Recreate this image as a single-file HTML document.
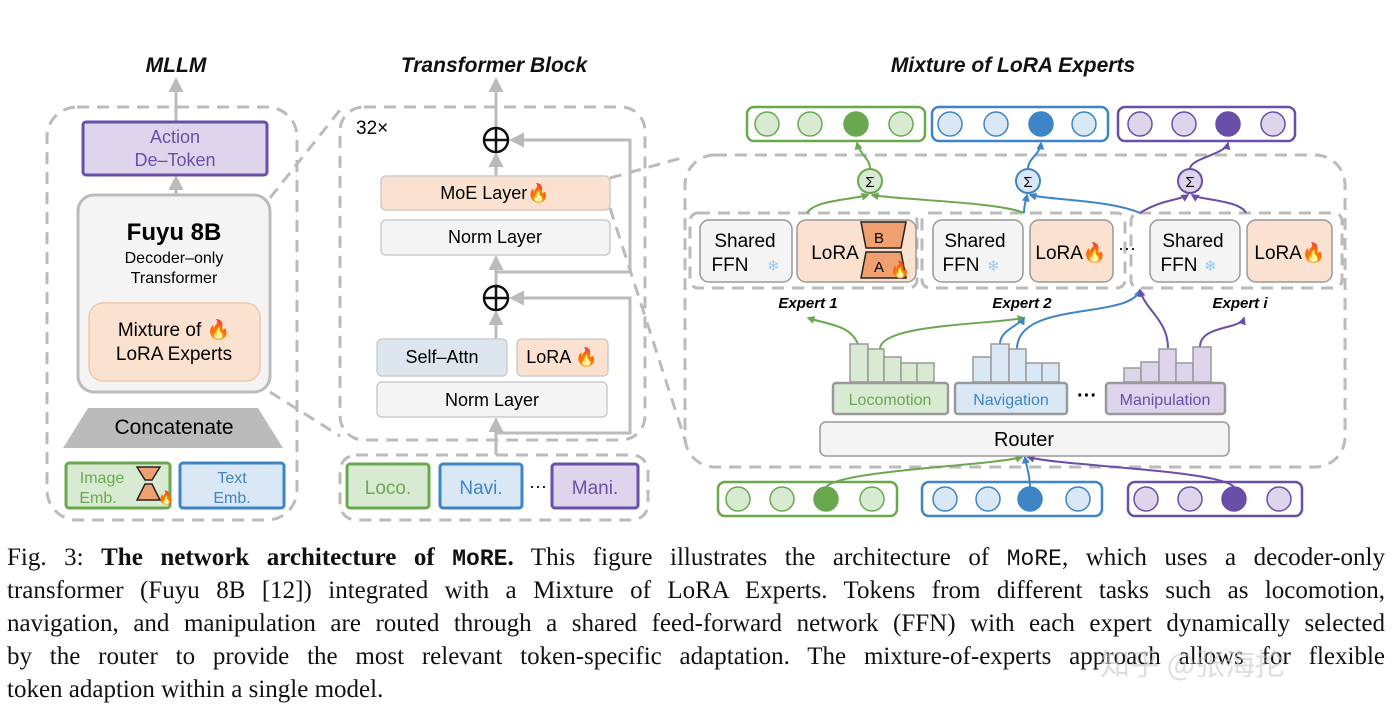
<!DOCTYPE html>
<html><head><meta charset="utf-8"><style>
body{margin:0;width:1392px;height:719px;background:#fff;overflow:hidden;position:relative;font-family:"Liberation Sans",sans-serif}
svg{position:absolute;left:0;top:0}
.cap{position:absolute;left:7px;width:1378px;font-family:"Liberation Serif",serif;font-size:25px;line-height:33px;color:#111;text-align:justify;text-align-last:justify;white-space:nowrap}
.mono{font-family:"Liberation Mono",monospace;font-size:23px}
</style></head><body>
<svg width="1392" height="719" viewBox="0 0 1392 719" font-family="Liberation Sans, sans-serif">
<defs>
<marker id="ag" viewBox="0 0 10 10" refX="8" refY="5" markerWidth="5" markerHeight="5" orient="auto"><path d="M0,0L10,5L0,10z" fill="#bbb"/></marker>
<marker id="gr" viewBox="0 0 10 10" refX="8" refY="5" markerWidth="4" markerHeight="4" orient="auto"><path d="M0,0L10,5L0,10z" fill="#6aa84f"/></marker>
<marker id="bl" viewBox="0 0 10 10" refX="8" refY="5" markerWidth="4" markerHeight="4" orient="auto"><path d="M0,0L10,5L0,10z" fill="#3d85c6"/></marker>
<marker id="pu" viewBox="0 0 10 10" refX="8" refY="5" markerWidth="4" markerHeight="4" orient="auto"><path d="M0,0L10,5L0,10z" fill="#6a4fa8"/></marker>
</defs>
<g font-weight="bold" font-style="italic" font-size="21" text-anchor="middle" fill="#111">
<text x="176" y="72">MLLM</text><text x="494" y="72">Transformer Block</text><text x="1013" y="72">Mixture of LoRA Experts</text></g>
<g fill="none" stroke="#bbb" stroke-width="3" stroke-dasharray="12,8">
<rect x="47" y="107" width="250" height="413" rx="30"/>
<rect x="340" y="107" width="305" height="333" rx="24"/>
<rect x="340" y="455" width="308" height="65" rx="16"/>
<rect x="685" y="155" width="660" height="312" rx="30"/>
<rect x="690" y="213" width="227" height="75" rx="8"/>
<rect x="922" y="213" width="203" height="75" rx="8"/>
<rect x="1131" y="213" width="211" height="75" rx="8"/>
<path d="M270 198 L340 110 M270 392 L340 436 M610 178 L685 157 M610 208 L685 440"/>
</g>
<g stroke="#bbb" stroke-width="3" fill="none">
<path d="M176 122V80" marker-end="url(#ag)"/><path d="M176 195V178" marker-end="url(#ag)"/>
</g>
<rect x="83" y="122" width="184" height="53" rx="3" fill="#dcd5ec" stroke="#6a4fa8" stroke-width="3"/>
<text x="175" y="143" font-size="18" fill="#6a4fa8" text-anchor="middle">Action</text>
<text x="175" y="166" font-size="18" fill="#6a4fa8" text-anchor="middle">De–Token</text>
<rect x="78" y="195" width="192" height="197" rx="16" fill="#f4f4f4" stroke="#bbb" stroke-width="3"/>
<text x="174" y="240" font-size="24" font-weight="bold" text-anchor="middle">Fuyu 8B</text>
<text x="174" y="263" font-size="16" text-anchor="middle">Decoder–only</text>
<text x="174" y="283" font-size="16" text-anchor="middle">Transformer</text>
<rect x="89" y="303" width="171" height="78" rx="14" fill="#fbe2d0" stroke="#f0c8a8" stroke-width="1.5"/>
<text x="174" y="336" font-size="19" text-anchor="middle">Mixture of 🔥</text>
<text x="174" y="360" font-size="19" text-anchor="middle">LoRA Experts</text>
<path d="M88 408H258L283 448H63Z" fill="#bbb"/>
<text x="174" y="434" font-size="21" text-anchor="middle">Concatenate</text>
<rect x="66" y="463" width="104" height="45" rx="3" fill="#d9ead3" stroke="#6aa84f" stroke-width="3"/>
<text x="102" y="483" font-size="16" fill="#6aa84f" text-anchor="middle">Image</text><text x="98" y="503" font-size="16" fill="#6aa84f" text-anchor="middle">Emb.</text>
<path d="M137 467H160L152 480H145Z M145 484H152L160 500H137Z" fill="#f0a070" stroke="#222" stroke-width="1.5"/>
<text x="158" y="502" font-size="13">🔥</text>
<rect x="180" y="463" width="104" height="45" rx="3" fill="#dae8f5" stroke="#3d85c6" stroke-width="3"/>
<text x="232" y="483" font-size="16" fill="#3d85c6" text-anchor="middle">Text</text><text x="232" y="503" font-size="16" fill="#3d85c6" text-anchor="middle">Emb.</text>
<g stroke="#bbb" stroke-width="3" fill="none">
<path d="M496 128V80" marker-end="url(#ag)"/>
<path d="M496 176V155" marker-end="url(#ag)"/>
<path d="M496 286V258" marker-end="url(#ag)"/>
<path d="M496 339V313" marker-end="url(#ag)"/>
<path d="M496 455V420" marker-end="url(#ag)"/>
<path d="M496 272H630V140H512" marker-end="url(#ag)"/>
<path d="M496 433H630V298H512" marker-end="url(#ag)"/>
</g>
<g fill="#fff" stroke="#111" stroke-width="2.5"><circle cx="496" cy="140" r="12"/><circle cx="496" cy="298" r="12"/>
<path d="M484 140H508M496 128V152M484 298H508M496 286V310"/></g>
<text x="356" y="134" font-size="19">32×</text>
<rect x="381" y="176" width="229" height="34" rx="5" fill="#fbe2d0" stroke="#ccc" stroke-width="1.5"/>
<text x="495" y="199" font-size="18" text-anchor="middle">MoE Layer🔥</text>
<rect x="381" y="220" width="229" height="35" rx="5" fill="#f4f4f4" stroke="#ccc" stroke-width="1.5"/>
<text x="495" y="243" font-size="18" text-anchor="middle">Norm Layer</text>
<rect x="377" y="339" width="130" height="37" rx="5" fill="#dde6ef" stroke="#ccc" stroke-width="1.5"/>
<text x="442" y="363" font-size="18" text-anchor="middle">Self–Attn</text>
<rect x="517" y="339" width="91" height="37" rx="5" fill="#fbe2d0" stroke="#ccc" stroke-width="1.5"/>
<text x="562" y="363" font-size="18" text-anchor="middle">LoRA 🔥</text>
<rect x="377" y="382" width="230" height="35" rx="5" fill="#f4f4f4" stroke="#ccc" stroke-width="1.5"/>
<text x="492" y="406" font-size="18" text-anchor="middle">Norm Layer</text>
<rect x="347" y="464" width="82" height="44" rx="3" fill="#d9ead3" stroke="#6aa84f" stroke-width="3"/>
<text x="388" y="494" font-size="19" fill="#6aa84f" text-anchor="middle">Loco.</text>
<rect x="440" y="464" width="82" height="44" rx="3" fill="#dae8f5" stroke="#3d85c6" stroke-width="3"/>
<text x="481" y="494" font-size="19" fill="#3d85c6" text-anchor="middle">Navi.</text>
<text x="538" y="492" font-size="18" text-anchor="middle">···</text>
<rect x="552" y="464" width="86" height="44" rx="3" fill="#dcd5ec" stroke="#6a4fa8" stroke-width="3"/>
<text x="595" y="494" font-size="19" fill="#6a4fa8" text-anchor="middle">Mani.</text>
<g stroke-width="2.5">
<rect x="747" y="107" width="178" height="34" rx="7" fill="#fff" stroke="#6aa84f"/>
<rect x="932" y="107" width="176" height="34" rx="7" fill="#fff" stroke="#3d85c6"/>
<rect x="1118" y="107" width="177" height="34" rx="7" fill="#fff" stroke="#6a4fa8"/>
<rect x="718" y="482" width="179" height="34" rx="7" fill="#fff" stroke="#6aa84f"/>
<rect x="922" y="482" width="180" height="34" rx="7" fill="#fff" stroke="#3d85c6"/>
<rect x="1128" y="482" width="174" height="34" rx="7" fill="#fff" stroke="#6a4fa8"/>
</g>
<g stroke-width="1.5">
<g stroke="#6aa84f" fill="#d9ead3"><circle cx="767" cy="124" r="12"/><circle cx="810" cy="124" r="12"/><circle cx="856" cy="124" r="12" fill="#6aa84f"/><circle cx="901" cy="124" r="12"/>
<circle cx="738" cy="499" r="12"/><circle cx="782" cy="499" r="12"/><circle cx="826" cy="499" r="12" fill="#6aa84f"/><circle cx="872" cy="499" r="12"/></g>
<g stroke="#3d85c6" fill="#dae8f5"><circle cx="950" cy="124" r="12"/><circle cx="996" cy="124" r="12"/><circle cx="1041" cy="124" r="12" fill="#3d85c6"/><circle cx="1084" cy="124" r="12"/>
<circle cx="945" cy="499" r="12"/><circle cx="988" cy="499" r="12"/><circle cx="1030" cy="499" r="12" fill="#3d85c6"/><circle cx="1078" cy="499" r="12"/></g>
<g stroke="#6a4fa8" fill="#dcd5ec"><circle cx="1140" cy="124" r="12"/><circle cx="1184" cy="124" r="12"/><circle cx="1228" cy="124" r="12" fill="#6a4fa8"/><circle cx="1273" cy="124" r="12"/>
<circle cx="1146" cy="499" r="12"/><circle cx="1190" cy="499" r="12"/><circle cx="1234" cy="499" r="12" fill="#6a4fa8"/><circle cx="1279" cy="499" r="12"/></g>
</g>
<g fill="none" stroke-width="2">
<g stroke="#6aa84f"><path d="M870 169C870 158 860 155 857 143" marker-end="url(#gr)"/>
<path d="M807 213C815 200 850 200 868 195" marker-end="url(#gr)"/><path d="M1024 213C1000 202 900 200 872 195" marker-end="url(#gr)"/>
<path d="M858 344C850 325 830 325 808 318" marker-end="url(#gr)"/><path d="M880 349C880 325 980 325 1024 318" marker-end="url(#gr)"/>
<path d="M826 487C840 470 990 466 1022 457" marker-end="url(#gr)"/></g>
<g stroke="#3d85c6"><path d="M1028 169C1028 158 1040 155 1041 143" marker-end="url(#bl)"/>
<path d="M1024 213C1024 205 1026 200 1027 195" marker-end="url(#bl)"/><path d="M1140 213C1110 200 1050 200 1030 195" marker-end="url(#bl)"/>
<path d="M1000 344C1000 330 1020 325 1024 318" marker-end="url(#bl)"/><path d="M1017 349C1017 300 1130 320 1140 290" marker-end="url(#bl)"/>
<path d="M1030 487C1030 475 1026 465 1025 457" marker-end="url(#bl)"/></g>
<g stroke="#6a4fa8"><path d="M1190 169C1190 158 1225 155 1228 143" marker-end="url(#pu)"/>
<path d="M1140 213C1160 200 1180 200 1188 195" marker-end="url(#pu)"/><path d="M1246 213C1240 200 1200 200 1192 195" marker-end="url(#pu)"/>
<path d="M1168 348C1168 320 1145 310 1140 290" marker-end="url(#pu)"/><path d="M1200 347C1200 325 1240 330 1244 318" marker-end="url(#pu)"/>
<path d="M1234 487C1220 470 1060 466 1028 457" marker-end="url(#pu)"/></g>
</g>
<g font-size="15" text-anchor="middle">
<circle cx="870" cy="181" r="12" fill="#d9ead3" stroke="#6aa84f" stroke-width="2"/><text x="870" y="187">Σ</text>
<circle cx="1028" cy="181" r="12" fill="#dae8f5" stroke="#3d85c6" stroke-width="2"/><text x="1028" y="187">Σ</text>
<circle cx="1190" cy="181" r="12" fill="#dcd5ec" stroke="#6a4fa8" stroke-width="2"/><text x="1190" y="187">Σ</text>
</g>
<g stroke="#999" stroke-width="1.5">
<rect x="700" y="220" width="92" height="62" rx="9" fill="#f4f4f4"/><rect x="797" y="220" width="119" height="62" rx="9" fill="#fbe2d0"/>
<rect x="933" y="220" width="90" height="62" rx="9" fill="#f4f4f4"/><rect x="1030" y="220" width="83" height="62" rx="9" fill="#fbe2d0"/>
<rect x="1150" y="220" width="90" height="62" rx="9" fill="#f4f4f4"/><rect x="1247" y="220" width="85" height="62" rx="9" fill="#fbe2d0"/>
</g>
<path d="M861 222H906L901 248H866Z M866 252H901L906 278H861Z" fill="#f0a070" stroke="#222" stroke-width="1.5"/>
<g font-size="19">
<text x="745" y="247" text-anchor="middle">Shared</text><text x="730" y="271" text-anchor="middle">FFN</text><text x="767" y="271" font-size="15" fill="#9cc9ee">❄</text>
<text x="835" y="259" text-anchor="middle">LoRA</text><text x="874" y="243" font-size="15">B</text><text x="874" y="272" font-size="15">A</text><text x="890" y="275" font-size="16">🔥</text>
<text x="975" y="247" text-anchor="middle">Shared</text><text x="961" y="271" text-anchor="middle">FFN</text><text x="987" y="271" font-size="15" fill="#9cc9ee">❄</text>
<text x="1071" y="259" text-anchor="middle">LoRA🔥</text>
<text x="1127" y="254" text-anchor="middle" font-size="18">···</text>
<text x="1193" y="247" text-anchor="middle">Shared</text><text x="1179" y="271" text-anchor="middle">FFN</text><text x="1204" y="271" font-size="15" fill="#9cc9ee">❄</text>
<text x="1290" y="259" text-anchor="middle">LoRA🔥</text>
</g>
<g font-size="15" font-weight="bold" font-style="italic" text-anchor="middle">
<text x="808" y="308">Expert 1</text><text x="1022" y="308">Expert 2</text><text x="1240" y="308">Expert i</text></g>
<g stroke="#999" stroke-width="1.5">
<g fill="#d9ead3"><rect x="850" y="344" width="18" height="38"/><rect x="868" y="349" width="16" height="33"/><rect x="884" y="357" width="17" height="25"/><rect x="901" y="363" width="16" height="19"/><rect x="917" y="363" width="17" height="19"/></g>
<g fill="#dae8f5"><rect x="973" y="357" width="18" height="25"/><rect x="991" y="344" width="18" height="38"/><rect x="1009" y="349" width="17" height="33"/><rect x="1026" y="363" width="16" height="19"/><rect x="1042" y="363" width="17" height="19"/></g>
<g fill="#dcd5ec"><rect x="1124" y="368" width="17" height="14"/><rect x="1141" y="362" width="18" height="20"/><rect x="1159" y="349" width="17" height="33"/><rect x="1176" y="363" width="17" height="19"/><rect x="1193" y="347" width="18" height="35"/></g>
<rect x="833" y="383" width="115" height="31" rx="3" fill="#d9ead3" stroke-width="2.5"/>
<rect x="955" y="383" width="112" height="31" rx="3" fill="#dae8f5" stroke-width="2.5"/>
<rect x="1106" y="383" width="119" height="31" rx="3" fill="#dcd5ec" stroke-width="2.5"/>
<rect x="820" y="422" width="409" height="34" rx="6" fill="#f4f4f4"/>
</g>
<g font-size="16" text-anchor="middle">
<text x="890" y="405" fill="#6aa84f">Locomotion</text><text x="1011" y="405" fill="#3d85c6">Navigation</text>
<text x="1087" y="402" font-size="20" font-weight="bold">···</text><text x="1165" y="405" fill="#6a4fa8">Manipulation</text>
<text x="1024" y="446" font-size="20">Router</text></g>
</svg>
<div class="cap" style="top:541px">Fig. 3: <b>The network architecture of <span class="mono">MoRE</span>.</b> This figure illustrates the architecture of <span class="mono">MoRE</span>, which uses a decoder-only</div>
<div class="cap" style="top:574px">transformer (Fuyu 8B [12]) integrated with a Mixture of LoRA Experts. Tokens from different tasks such as locomotion,</div>
<div class="cap" style="top:607px">navigation, and manipulation are routed through a shared feed-forward network (FFN) with each expert dynamically selected</div>
<div class="cap" style="top:640px">by the router to provide the most relevant token-specific adaptation. The mixture-of-experts approach allows for flexible</div>
<div class="cap" style="top:673px;text-align-last:left">token adaption within a single model.</div>
<div style="position:absolute;left:1100px;top:640px;font-family:'Noto Sans CJK SC',sans-serif;font-size:30px;color:rgba(200,200,200,0.6)">知乎 @张海抡</div>
</body></html>
